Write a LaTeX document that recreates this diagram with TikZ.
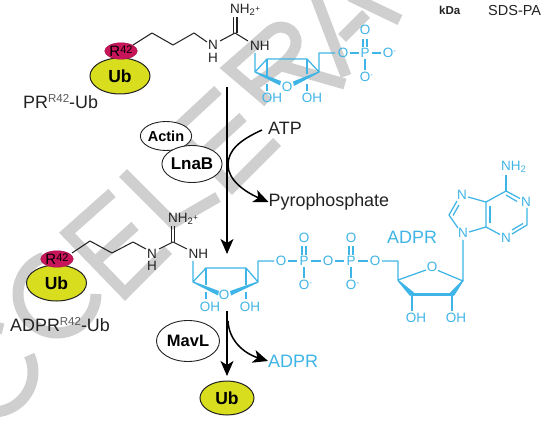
\documentclass[tikz,border=0pt]{standalone}
\usepackage{fontspec}
\setmainfont{Liberation Sans}
\usetikzlibrary{shapes.geometric,arrows.meta}
\definecolor{wm}{HTML}{CFCFCF}
\definecolor{bl}{HTML}{3FB4E6}
\definecolor{ubc}{HTML}{D8DD1E}
\definecolor{rc}{HTML}{C8145A}
\definecolor{ink}{HTML}{222222}
\newcommand{\fs}[1]{\fontsize{#1}{#1}\selectfont}
\newcommand{\sups}[3]{\raisebox{#1pt}{\fs{#2}#3}}
\newcommand{\Omin}{O\rlap{\raisebox{4pt}{\fs{8}-}}}
\tikzset{
  wmark/.style={draw=wm,line width=11pt,line cap=butt,line join=miter},
  bk/.style={draw=ink,line width=1.05pt,line join=round},
  bb/.style={draw=bl,line width=1.25pt,line join=round},
  lab/.style={inner sep=0pt,text=ink,font=\fs{13.5}},
  blab/.style={inner sep=0pt,text=bl,font=\fs{13.5}},
  big/.style={inner sep=0pt,text=ink,font=\fs{17.9},anchor=west},
  ubell/.style={ellipse,draw=ink,line width=1pt,fill=ubc,inner sep=0pt,font=\bfseries\fs{17.5},text=black},
  rell/.style={ellipse,fill=rc,draw=rc!80!black,line width=0.4pt,inner sep=0pt,minimum width=30pt,minimum height=16.5pt,text=black},
  enz/.style={ellipse,draw=ink,line width=0.9pt,fill=white,inner sep=0pt,text=black},
  mainar/.style={draw=black,line width=1.5pt,-{Stealth[length=15pt,width=13pt,inset=4pt]}},
  curvar/.style={draw=black,line width=1.5pt,-{Stealth[length=15pt,width=13pt,inset=4pt]}},
}
\begin{document}
\begin{tikzpicture}[x=1pt,y=-1pt]
\useasboundingbox (0,0) rectangle (541,422);
\clip (0,0) rectangle (541,422);
% ---- watermark
\draw[wmark] plot[smooth,domain=0:250,samples=40] ({57+39*cos(\x)},{294+39*sin(\x)});
\draw[wmark] plot[smooth,domain=-25:100,samples=25] ({-7+40*cos(\x)},{372+40*sin(\x)});
\draw[wmark] (-12,325) -- (3,329);
\draw[wmark] (112,193) -- (67,233) -- (125,293) -- (168,250);
\draw[wmark] (95,262) -- (135,226);
\draw[wmark] (123,173) -- (173,223) -- (218,197);
\draw[wmark] (218,90) -- (175,130) -- (232,187) -- (277,142);
\draw[wmark] (243,117) -- (205,152);
\draw[wmark] (268,102) -- (228,68) -- (270,31) .. controls (285,20) and (302,34) .. (294,50) .. controls (290,58) and (285,64) .. (250,88);
\draw[wmark] (282,66) -- (345,84);
\draw[wmark] (346,76) -- (314,-8);
\draw[wmark] (400,20) -- (350,-4);
\draw[wmark] (342,38) -- (366,14);
% ---- top labels
\node[inner sep=0pt,anchor=west,font=\bfseries\fs{11.5},text=ink] (kda) at (439,10) {kDa};
\node[inner sep=0pt,anchor=west,font=\fs{14.5},text=ink] (sds) at (488,11) {SDS-PA};
% ---- PR-Ub
\node[ubell,minimum width=60pt,minimum height=36pt] (ub1) at (120,76) {Ub};
\node[rell] (r1) at (121,51) {\fs{15}R\sups{3.5}{11}{42}};
\node[big] (prlab) at (23,102) {PR\sups{6}{11.5}{\textcolor{ink!75}{R42}}-Ub};
\node[lab] (n1) at (213,45) {N};
\node[lab] (h1) at (213,58) {H};
\node[lab,anchor=west] (nh1) at (250,46) {NH};
\node[lab,anchor=west] (nh21) at (230,10) {NH\textsubscript{2}\raisebox{2pt}{\fs{8}+}};
\draw[bk] (133,45) -- (152,33) -- (173,45) -- (194,33) -- (207,42);
\draw[bk] (220,41) -- (235,33) -- (248,41);
\draw[bk] (233.3,17) -- (233.3,33) (237,17) -- (237,33);
% sugar 1
\draw[bb] (255,53) -- (255,72) -- (267,59) -- (307,59) -- (319,72) -- (319,53) -- (335,53);
\fill[bl] (255,71.3) -- (255,72.7) -- (280,85.5) -- (281,81) -- cycle;
\fill[bl] (319,71.3) -- (319,72.7) -- (294,86) -- (293,81.5) -- cycle;
\draw[bb] (267,59) -- (267,76) (267,84) -- (267,91) (307,59) -- (307,74) (307,84) -- (307,91);
\node[blab] (o11) at (287,87) {O};
\node[blab] (oh11) at (272,98) {OH};
\node[blab] (oh12) at (312,98) {OH};
\node[blab] (o12) at (343,53) {O};
\node[blab] (p1) at (365,53) {P};
\node[blab] (o13) at (365,30) {O};
\node[blab] (o14) at (365,77) {\Omin};
\node[blab] (o15) at (388,53) {\Omin};
\draw[bb] (350,53) -- (359,53) (372,53) -- (381,53) (365,59) -- (365,70);
\draw[bb] (363,39) -- (363,47) (367,39) -- (367,47);
% ---- enzymes / main arrow
\coordinate (a1s) at (227,87);
\coordinate (a1e) at (227,254);
\draw[mainar] (a1s) -- (a1e);
\node[enz,minimum width=44pt,minimum height=29pt,font=\bfseries\fs{14.5}] (actin) at (166,136) {Actin};
\node[enz,minimum width=56pt,minimum height=37pt,font=\bfseries\fs{17}] (lnab) at (192,164) {LnaB};
\node[big] (atp) at (268,128) {ATP};
\node[big] (ppi) at (268.5,202) {Pyrophosphate};
\draw[curvar] (atp.west)++(-6,2) .. controls (240,140) and (228,150) .. (228,165) .. controls (228,180) and (245,192) .. (ppi.west);
% ---- ADPR-Ub
\node[ubell,minimum width=60pt,minimum height=36pt] (ub2) at (56.5,283) {Ub};
\node[rell] (r2) at (57,259) {\fs{15}R\sups{3.5}{11}{42}};
\node[big] (adprlab) at (10,325) {ADPR\sups{6}{11.5}{\textcolor{ink!75}{R42}}-Ub};
\node[lab] (n2) at (152,254) {N};
\node[lab] (h2) at (152,266) {H};
\node[lab,anchor=west] (nh2) at (188.5,254) {NH};
\node[lab,anchor=west] (nh22) at (168,219) {NH\textsubscript{2}\raisebox{2pt}{\fs{8}+}};
\draw[bk] (72,253) -- (90,241) -- (112,253) -- (133,242) -- (146,249);
\draw[bk] (159,249) -- (173,242) -- (187,249);
\draw[bk] (171.2,226) -- (171.2,242) (174.8,226) -- (174.8,242);
% sugar 2
\draw[bb] (193,261) -- (193,282) -- (206,268) -- (246,268) -- (258,282) -- (258,261) -- (274,261);
\fill[bl] (193,281.3) -- (193,282.7) -- (218,295.5) -- (219,291) -- cycle;
\fill[bl] (258,281.3) -- (258,282.7) -- (231,295.5) -- (230,291) -- cycle;
\draw[bb] (206,268) -- (206,285) (206,292) -- (206,299) (246,268) -- (246,285) (246,292) -- (246,299);
\node[blab] (o21) at (224,295) {O};
\node[blab] (oh21) at (210,307) {OH};
\node[blab] (oh22) at (250,307) {OH};
\node[blab] (o22) at (281,261) {O};
\node[blab] (p2) at (304,261) {P};
\node[blab] (o23) at (304,238) {O};
\node[blab] (o24) at (304,285) {\Omin};
\node[blab] (o25) at (328,261) {O};
\node[blab] (p3) at (351,261) {P};
\node[blab] (o26) at (351,238) {O};
\node[blab] (o27) at (351,285) {\Omin};
\node[blab] (o28) at (375,261) {O};
\draw[bb] (288,261) -- (297,261) (311,261) -- (321,261) (335,261) -- (344,261) (358,261) -- (368,261);
\draw[bb] (304,267) -- (304,278) (351,267) -- (351,278);
\draw[bb] (302,246) -- (302,255) (306,246) -- (306,255) (349,246) -- (349,255) (353,246) -- (353,255);
% ribose
\draw[bb] (382,261) -- (398,261) -- (398,280) -- (426,270);
\draw[bb] (438,270.5) -- (463,281) -- (463,240);
\fill[bl] (398,279.5) -- (397.6,281) -- (410,296) -- (414,292.5) -- cycle;
\fill[bl] (463,279.5) -- (463.4,281) -- (454,296) -- (450,292.5) -- cycle;
\draw[draw=bl,line width=3pt] (411,294) -- (453,294);
\draw[bb] (412,294) -- (412,311) (452,294) -- (452,311);
\node[blab] (o29) at (432,267) {O};
\node[blab] (oh23) at (416,318) {OH};
\node[blab] (oh24) at (456,318) {OH};
% adenine
\node[blab] (n9) at (463,233) {N};
\node[blab] (n7) at (462,195) {N};
\node[blab] (n1) at (526,202) {N};
\node[blab] (n3) at (506,238) {N};
\node[blab,anchor=west] (nh2a) at (501,167) {NH\textsubscript{2}};
\draw[bb] (458,228) -- (449,215) -- (457,201);
\draw[bb] (453,215.5) -- (459,205);
\draw[bb] (468,197) -- (486,202) -- (486,227) -- (469,232);
\draw[bb] (490,206) -- (490,223);
\draw[bb] (486,202) -- (506,191) -- (520,198.5);
\draw[bb] (506,195) -- (517,201.5);
\draw[bb] (506,191) -- (506,175);
\draw[bb] (527,208) -- (527,225) -- (512,234);
\draw[bb] (523,223.5) -- (512,230);
\draw[bb] (500,234.5) -- (486,227);
\node[big,text=bl] (adprt) at (387,237) {ADPR};
% ---- lower arrows
\node[enz,minimum width=63pt,minimum height=41pt,font=\bfseries\fs{16.5}] (mavl) at (188,341) {MavL};
\node[ubell,minimum width=54pt,minimum height=34pt] (ub3) at (227,398) {Ub};
\node[big,text=bl,font=\fs{18}] (adprb) at (268,361) {ADPR};
\coordinate (a2s) at (227,311);
\draw[mainar] (a2s) -- (227,376);
\draw[curvar] (a2s)++(1,10) .. controls (229,340) and (243,353) .. (adprb.west);
\end{tikzpicture}
\end{document}
